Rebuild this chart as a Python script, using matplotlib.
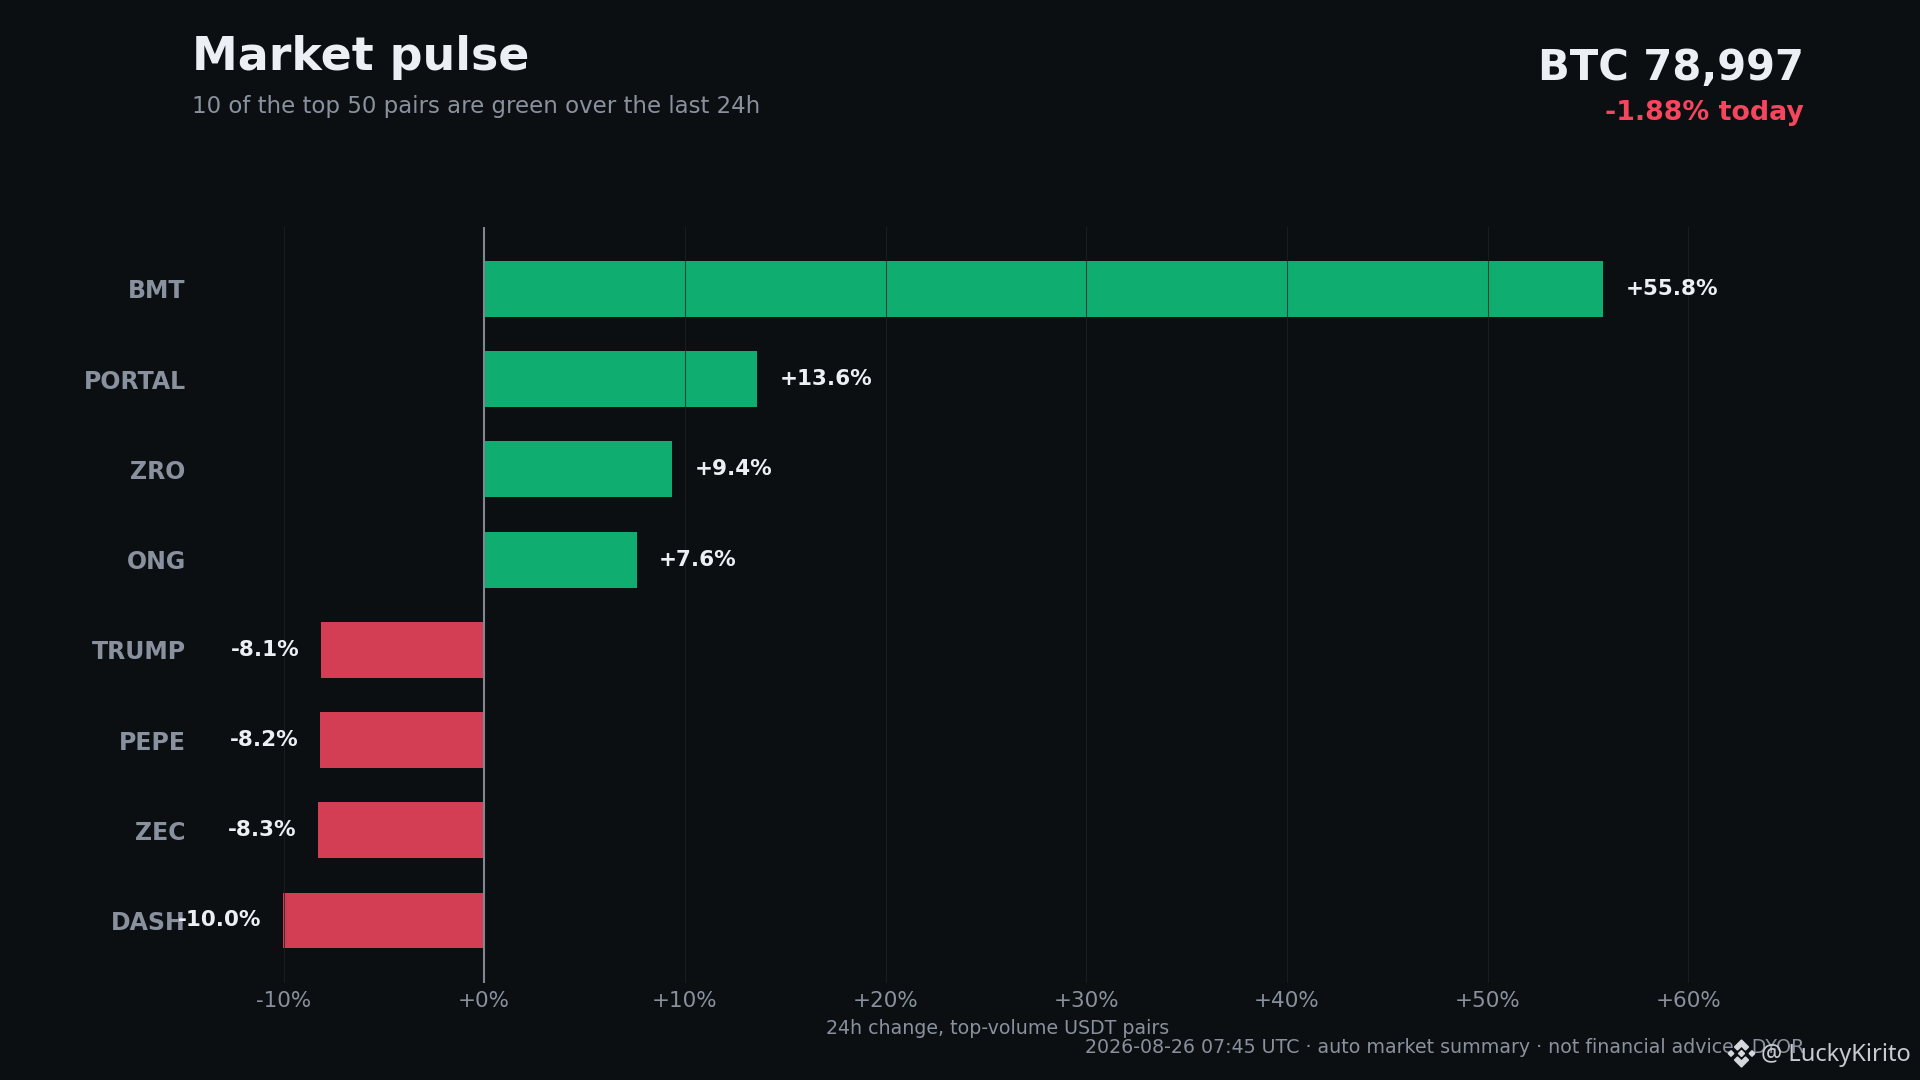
import matplotlib
matplotlib.use('Agg')
import matplotlib.pyplot as plt
from matplotlib.patches import Polygon

# datos
simbolos = ['BMT', 'PORTAL', 'ZRO', 'ONG', 'TRUMP', 'PEPE', 'ZEC', 'DASH']
cambios = [55.76, 13.6, 9.37, 7.6, -8.13, -8.17, -8.27, -10.04]
ticks_x = [-10, 0, 10, 20, 30, 40, 50, 60]

FONDO = '#0b0f12'
VERDE = '#0fae70'
ROJO = '#d33e54'
GRIS = '#8a919e'
BLANCO = '#eceff3'

W, H = 1920, 1080
fig = plt.figure(figsize=(W / 100, H / 100), dpi=100, facecolor=FONDO)
ax = fig.add_axes([192 / W, 1 - 983 / H, (1804 - 192) / W, (983 - 227) / H], facecolor=FONDO)

colores = [VERDE if c >= 0 else ROJO for c in cambios]
ax.barh(range(len(cambios)), cambios, height=0.62, color=colores, zorder=2)
ax.set_xlim(-14.56, 65.77)
ax.set_ylim(7.693, -0.687)

# rejilla por encima de las barras
ax.set_axisbelow(False)
ax.grid(axis='x', color='#1e2329', alpha=0.75, linewidth=0.8, zorder=3)
ax.grid(axis='y', visible=False)
ax.axvline(0, color='#7f8794', linewidth=1.5, zorder=4)

for s in ax.spines.values():
    s.set_visible(False)

ax.set_yticks(range(len(simbolos)))
ax.set_yticklabels(simbolos, fontsize=17, fontweight='bold', color=GRIS)
ax.set_xticks(ticks_x)
ax.set_xticklabels([f'{t:+d}%' for t in ticks_x], fontsize=15.5, color=GRIS)
ax.tick_params(axis='both', length=0)
ax.tick_params(axis='y', pad=4.5)
ax.tick_params(axis='x', pad=5.5)

# etiquetas de valor
for i, c in enumerate(cambios):
    if c >= 0:
        ax.text(c + 1.12, i, f'{c:+.1f}%', va='center', ha='left', fontsize=15.5, fontweight='bold', color=BLANCO)
    else:
        ax.text(c - 1.08, i, f'{c:+.1f}%', va='center', ha='right', fontsize=15.5, fontweight='bold', color=BLANCO)

fig.text(192 / W, 1 - 57 / H, 'Market pulse', fontsize=33, fontweight='bold', color=BLANCO, va='center')
fig.text(192 / W, 1 - 107 / H, '10 of the top 50 pairs are green over the last 24h', fontsize=16.5, color=GRIS, va='center')
fig.text(1804 / W, 1 - 68 / H, 'BTC 78,997', fontsize=30, fontweight='bold', color=BLANCO, va='center', ha='right')
fig.text(1804 / W, 1 - 113.5 / H, '-1.88% today', fontsize=19.3, fontweight='bold', color='#f6465d', va='center', ha='right')
fig.text(998 / W, 1 - 1028 / H, '24h change, top-volume USDT pairs', fontsize=13.7, color=GRIS, va='center', ha='center')
fig.text(1804 / W, 1 - 1047.5 / H, '2026-08-26 07:45 UTC · auto market summary · not financial advice · DYOR', fontsize=13.7, color=GRIS, va='center', ha='right')

# marca de agua: logo y usuario
MARCA = '#d5d8dc'
cx, cy = 1741.5, 1053.5
formas = [
    [(0, -13.5), (7, -6.5), (4, -3.5), (0, -7.5), (-4, -3.5), (-7, -6.5)],
    [(0, 13.5), (7, 6.5), (4, 3.5), (0, 7.5), (-4, 3.5), (-7, 6.5)],
    [(0, -3), (3, 0), (0, 3), (-3, 0)],
    [(-10.5, -2.8), (-7.7, 0), (-10.5, 2.8), (-13.3, 0)],
    [(10.5, -2.8), (13.3, 0), (10.5, 2.8), (7.7, 0)],
]
for forma in formas:
    fig.add_artist(Polygon([((cx + x) / W, 1 - (cy + y) / H) for x, y in forma], closed=True, color=MARCA,
                           transform=fig.transFigure, zorder=5))
fig.text(1911 / W, 1 - 1055 / H, '@ LuckyKirito', fontsize=17, color='#c8ccd2', va='center', ha='right',
         family='Noto Sans')

fig.savefig('out.png', dpi=100, facecolor=FONDO)
